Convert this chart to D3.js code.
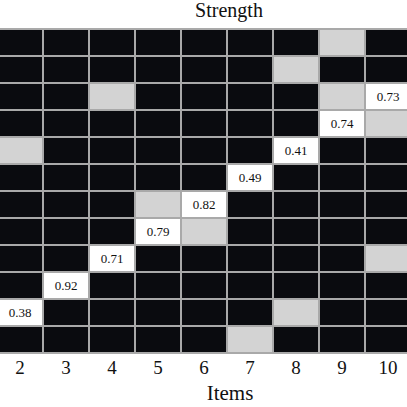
<!DOCTYPE html>
<html>
<head>
<meta charset="utf-8">
<script src="https://cdn.jsdelivr.net/npm/d3@7"></script>
<style>
  body { margin: 0; background: #fff; }
  svg { display: block; }
</style>
</head>
<body>
<div id="chart"></div>
<script>
// Items on the x axis, rows (unlabelled) top to bottom
var items = [2, 3, 4, 5, 6, 7, 8, 9, 10];
var rows = [1, 2, 3, 4, 5, 6, 7, 8, 9, 10, 11, 12];

// White cells carrying a strength value
var strengthItems  = [10, 9, 8, 7, 6, 5, 4, 3, 2];
var strengthRows   = [3, 4, 5, 6, 7, 8, 9, 10, 11];
var strengthValues = [0.73, 0.74, 0.41, 0.49, 0.82, 0.79, 0.71, 0.92, 0.38];

// Grey cells
var greyItems = [9, 8, 4, 9, 10, 2, 5, 6, 10, 8, 7];
var greyRows  = [1, 2, 3, 3, 4, 5, 7, 8, 9, 11, 12];

var width = 407, height = 407;

var svg = d3.select('#chart')
            .append('svg')
            .attr('width', width)
            .attr('height', height);

var x = d3.scaleBand().domain(items).range([-3, 411]);
var y = d3.scaleBand().domain(rows).range([29, 353]);

// Build the cell table
var cells = [];
rows.forEach(function(r) {
  items.forEach(function(it) {
    cells.push({item: it, row: r, type: 'black'});
  });
});
function findCell(it, r) {
  return cells.find(function(c) { return c.item == it && c.row == r; });
}
greyItems.forEach(function(it, i) {
  findCell(it, greyRows[i]).type = 'grey';
});
strengthItems.forEach(function(it, i) {
  var c = findCell(it, strengthRows[i]);
  c.type = 'white';
  c.value = strengthValues[i];
});

var fillColor = {black: '#0a0b0f', grey: '#d3d3d3', white: '#ffffff'};

svg.append('g')
   .selectAll('rect')
   .data(cells)
   .enter().append('rect')
   .attr('x', function(d) { return x(d.item); })
   .attr('y', function(d) { return y(d.row); })
   .attr('width', x.bandwidth())
   .attr('height', y.bandwidth())
   .attr('fill', function(d) { return fillColor[d.type]; })
   .attr('stroke', '#a9a9a9')
   .attr('stroke-width', 2);

// value labels
svg.append('g')
   .selectAll('text')
   .data(cells.filter(function(d) { return d.type == 'white'; }))
   .enter().append('text')
   .attr('x', function(d) { return x(d.item) + x.bandwidth() / 2; })
   .attr('y', function(d) { return y(d.row) + y.bandwidth() / 2; })
   .attr('dy', '0.35em')
   .style('text-anchor', 'middle')
   .style('font-family', 'Liberation Serif, serif')
   .style('font-size', '13px')
   .attr('fill', '#111')
   .text(function(d) { return d.value.toFixed(2); });

// x axis
var xAxis = svg.append('g')
   .attr('transform', 'translate(0,353)')
   .call(d3.axisBottom(x).tickSize(0).tickPadding(8));
xAxis.select('.domain').remove();
xAxis.selectAll('text')
     .style('font-family', 'Liberation Serif, serif')
     .style('font-size', '19px')
     .attr('fill', '#111');

// title and axis label
svg.append('text')
   .attr('x', 229)
   .attr('y', 17)
   .style('text-anchor', 'middle')
   .style('font-family', 'Liberation Serif, serif')
   .style('font-size', '20px')
   .attr('fill', '#111')
   .text('Strength');

svg.append('text')
   .attr('x', 230)
   .attr('y', 400)
   .style('text-anchor', 'middle')
   .style('font-family', 'Liberation Serif, serif')
   .style('font-size', '21px')
   .attr('fill', '#111')
   .text('Items');
</script>
</body>
</html>
